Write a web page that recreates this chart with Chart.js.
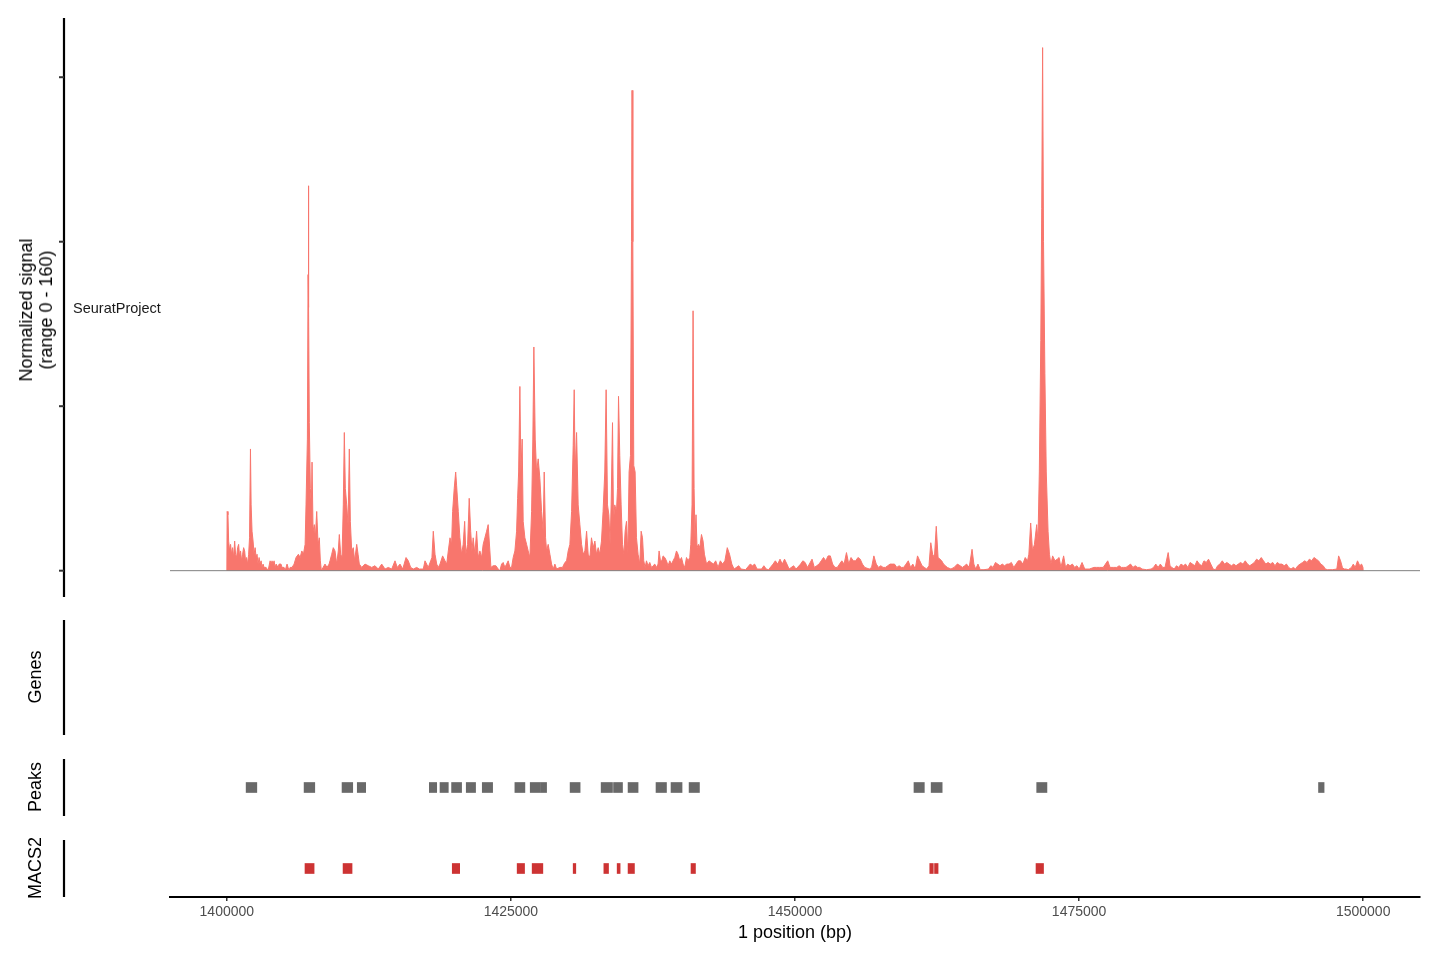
<!DOCTYPE html>
<html>
<head>
<meta charset="utf-8">
<script src="https://cdn.jsdelivr.net/npm/chart.js"></script>
<style>
  body { margin: 0; width: 1440px; height: 960px; background: #fff; position: relative; overflow: hidden; }
  canvas { position: absolute; left: 0; }
  .lab { position: absolute; font-family: "Liberation Sans", Arial, sans-serif; font-size: 18px; line-height: 20px;
         color: #000; white-space: nowrap; text-align: center; transform: translate(-50%, -50%) rotate(-90deg); }
  .strip { position: absolute; font-family: "Liberation Sans", Arial, sans-serif; font-size: 14.5px; color: #1a1a1a;
           white-space: nowrap; transform: translateY(-50%); }
</style>
</head>
<body>
<canvas id="cov" width="1440" height="610" style="top:0"></canvas>
<canvas id="genes" width="1440" height="115" style="top:620px"></canvas>
<canvas id="peaks" width="1440" height="57" style="top:759px"></canvas>
<canvas id="macs" width="1440" height="130" style="top:830px"></canvas>

<div class="lab" style="left:36px; top:310px">Normalized signal<br>(range 0 - 160)</div>
<div class="strip" style="left:73px; top:308px">SeuratProject</div>
<div class="lab" style="left:35px; top:677px">Genes</div>
<div class="lab" style="left:35px; top:787px">Peaks</div>
<div class="lab" style="left:35px; top:868px">MACS2</div>

<script>
// genomic window shown on the x axis (bp)
const xRange = [1395000, 1505000];
const xTickValues = [1400000, 1425000, 1450000, 1475000, 1500000];

// normalized signal range and its tick marks
const signalRange = [0, 160];
const signalTicks = [0, 50, 100, 150];

// coverage track: [position, normalized signal]
const coverage = [
  [1400000,0],[1400030,18],[1400100,17],[1400160,9],[1400250,6],[1400330,8],[1400420,5],[1400510,7],[1400600,4],[1400690,9],
  [1400770,5],[1400860,4],[1400950,7],[1401040,8],[1401130,4],[1401210,6],[1401300,3],[1401390,5],[1401480,7],[1401570,6],
  [1401650,3],[1401740,4],[1401830,2],[1401920,5],[1402000,10],[1402080,37],[1402140,20],[1402220,12],[1402310,9],[1402400,5],
  [1402490,7],[1402580,4],[1402660,5],[1402750,2],[1402840,4],[1402930,2],[1403020,3],[1403100,1],[1403190,2],[1403280,1],
  [1403460,1],[1403630,0],[1403810,3],[1403900,2],[1403980,3],[1404070,2],[1404160,3],[1404250,1],[1404340,2],[1404510,1],
  [1404600,2],[1404770,2],[1404860,1],[1405040,1],[1405130,0],[1405300,2],[1405390,1],[1405480,0],[1405570,1],[1405740,1],
  [1405920,2],[1406090,4],[1406300,5],[1406450,4],[1406600,6],[1406740,5],[1406890,8],[1406970,20],[1407090,40],[1407150,90],
  [1407180,117],[1407210,80],[1407260,45],[1407350,25],[1407440,20],[1407500,33],[1407590,12],[1407700,14],[1407790,10],[1407910,18],
  [1408030,8],[1408140,10],[1408230,3],[1408320,0],[1408470,1],[1408640,2],[1408820,1],[1409000,2],[1409080,3],[1409230,5],
  [1409370,7],[1409520,6],[1409670,2],[1409810,6],[1409900,11],[1410020,5],[1410140,4],[1410250,20],[1410340,42],[1410430,25],
  [1410550,20],[1410670,14],[1410780,37],[1410870,15],[1410990,6],[1411130,7],[1411250,3],[1411430,8],[1411550,5],[1411660,2],
  [1411870,1],[1412160,2],[1412450,1.5],[1412750,1],[1413040,1.5],[1413330,0.5],[1413630,2],[1413920,0.5],[1414210,1],[1414510,0.5],
  [1414800,3],[1415000,1],[1415240,2],[1415480,0.5],[1415770,4],[1415970,3],[1416180,1],[1416410,0.5],[1416710,1],[1416940,0.5],
  [1417290,0.5],[1417440,3],[1417730,1],[1417940,3],[1418050,4],[1418170,12],[1418320,5],[1418470,2],[1418610,1],[1418760,2],
  [1418990,4.5],[1419200,3],[1419350,2],[1419490,6],[1419640,10],[1419780,8],[1419870,18],[1420010,25],[1420140,30],[1420220,26],
  [1420370,18],[1420510,10],[1420660,5],[1420800,8],[1420930,15],[1421040,5],[1421190,8],[1421330,22],[1421460,12],[1421570,6],
  [1421680,10],[1421830,5],[1421980,12],[1422120,4],[1422270,6],[1422420,4],[1422560,8],[1422710,10],[1422860,12],[1423000,14],
  [1423150,6],[1423240,1],[1423440,1.5],[1423680,1.5],[1423880,0.5],[1424030,0],[1424180,2],[1424320,2.5],[1424470,1],[1424620,2],
  [1424760,3],[1424910,1],[1425060,1],[1425200,4],[1425350,6],[1425500,12],[1425590,22],[1425680,30],[1425790,56],[1425880,30],
  [1425990,40],[1426080,15],[1426230,10],[1426380,8],[1426520,6],[1426670,4],[1426820,18],[1426930,40],[1427020,68],[1427140,40],
  [1427260,30],[1427400,34],[1427550,28],[1427700,18],[1427840,12],[1427930,30],[1428050,10],[1428140,6],[1428280,8],[1428430,5],
  [1428580,2],[1428720,0.5],[1428870,2],[1429020,0.5],[1429310,1],[1429540,1],[1429750,2.5],[1429900,3],[1430040,6],[1430190,8],
  [1430340,18],[1430480,38],[1430570,55],[1430650,30],[1430780,42],[1430920,20],[1431070,14],[1431220,8],[1431360,5],[1431510,6],
  [1431660,12],[1431800,5],[1431950,4],[1432090,10],[1432240,7],[1432390,9],[1432530,5],[1432680,7],[1432820,5],[1432970,9],
  [1433110,18],[1433260,30],[1433380,55],[1433500,20],[1433620,17],[1433730,8],[1433820,20],[1433940,45],[1434030,15],[1434140,20],
  [1434290,18],[1434380,25],[1434470,53],[1434580,35],[1434700,20],[1434820,8],[1434940,5],[1435050,12],[1435170,15],[1435290,5],
  [1435400,30],[1435520,35],[1435610,100],[1435660,146],[1435730,100],[1435810,32],[1435930,30],[1436050,10],[1436190,5],[1436340,2],
  [1436460,12],[1436580,10],[1436690,3],[1436810,1],[1436930,3],[1437070,1.5],[1437220,2.5],[1437370,1],[1437510,1.5],[1437660,2],
  [1437810,1],[1437950,2],[1438040,6],[1438160,3],[1438280,3],[1438390,4.5],[1438540,4],[1438690,3],[1438830,1.5],[1438980,3],
  [1439130,2],[1439270,3],[1439420,4],[1439570,6],[1439710,5],[1439860,3],[1440010,4],[1440150,2],[1440300,1],[1440450,4],
  [1440590,3],[1440740,4],[1440830,8],[1440940,20],[1441030,79],[1441120,25],[1441200,10],[1441290,17],[1441380,7],[1441500,8],
  [1441620,7],[1441770,11],[1441910,9],[1442030,5],[1442220,2],[1442430,3],[1442630,2.5],[1442830,2],[1443020,3],[1443230,1],
  [1443430,3],[1443630,2],[1443830,3],[1444040,7],[1444240,5],[1444440,2],[1444640,0.5],[1445050,1.5],[1445250,0.5],[1445650,0.3],
  [1446060,2],[1446260,1.5],[1446450,2],[1446660,0.5],[1447060,0.5],[1447260,1.5],[1447470,0.5],[1447670,0.3],[1448070,2],[1448270,3],
  [1448480,2],[1448680,3.5],[1448880,2],[1449080,3.5],[1449290,2],[1449480,0.5],[1449880,1.5],[1450090,0.5],[1450490,2],[1450690,3],
  [1450890,2.5],[1451100,1],[1451500,3.5],[1451700,1],[1451910,1.5],[1452110,2],[1452310,3],[1452510,4],[1452710,3],[1452910,4.5],
  [1453110,4.5],[1453310,2],[1453520,1],[1453720,1],[1453920,2],[1454120,3],[1454320,2],[1454530,5.5],[1454730,2],[1454930,4],
  [1455130,3],[1455340,3],[1455540,4],[1455740,3.5],[1455930,2],[1456140,1],[1456540,0.5],[1456740,1],[1456940,4.5],[1457150,2],
  [1457350,1],[1457550,1.5],[1457750,1],[1457960,1],[1458160,1.5],[1458360,2],[1458560,2],[1458760,2],[1458960,1],[1459160,1.5],
  [1459360,1],[1459560,1],[1459770,2],[1459970,3],[1460170,1],[1460370,2],[1460580,0.5],[1460780,4.5],[1460980,3],[1461180,1.5],
  [1461380,1],[1461590,0.5],[1461790,1.5],[1461950,8.5],[1462110,5],[1462270,4],[1462430,13.5],[1462590,4],[1462760,3.5],[1462910,3],
  [1463070,2],[1463240,1.5],[1463400,1],[1463720,0.5],[1464000,1],[1464290,2],[1464530,1.5],[1464730,1],[1464930,1.5],[1465100,2],
  [1465330,1],[1465580,6.5],[1465740,2],[1465900,0.5],[1466100,2],[1466300,0.3],[1466630,0.3],[1467030,0.5],[1467230,1.5],[1467430,1],
  [1467640,2.5],[1467840,2],[1468040,1.5],[1468240,2],[1468440,1.5],[1468640,2],[1468840,2],[1469040,2.5],[1469250,1],[1469450,2],
  [1469650,3],[1469850,3],[1470050,2],[1470260,4],[1470460,3],[1470580,5],[1470740,14.5],[1470900,6],[1471070,8],[1471270,14],
  [1471380,9],[1471500,30],[1471630,70],[1471710,110],[1471790,159],[1471870,100],[1471990,60],[1472110,30],[1472270,12],[1472390,5],
  [1472520,2],[1472670,4.5],[1472880,3],[1473080,3.5],[1473240,4],[1473400,1],[1473640,4.5],[1473810,1],[1474000,2],[1474200,1.5],
  [1474410,2],[1474610,1],[1474810,1.5],[1475010,0.5],[1475260,2.5],[1475500,0.5],[1475900,0.5],[1476310,1],[1476540,1],[1476790,1],
  [1477120,1],[1477320,2],[1477520,3],[1477720,1],[1478000,1],[1478320,1],[1478520,1.5],[1478720,1],[1478930,1],[1479130,1],
  [1479330,1.5],[1479530,2],[1479740,1],[1479940,1.5],[1480140,1],[1480340,1],[1480540,0.5],[1480940,0.3],[1481340,0.5],[1481550,1],
  [1481750,2],[1481950,1],[1482150,2],[1482360,1],[1482560,1],[1482840,5.5],[1483000,1.5],[1483160,1],[1483370,0.5],[1483570,1.5],
  [1483770,1],[1483970,2],[1484180,1.5],[1484370,2],[1484570,1],[1484770,2.5],[1484980,2],[1485180,1.5],[1485380,3],[1485580,2],
  [1485790,1.5],[1485990,3],[1486190,2.5],[1486390,3.5],[1486590,2],[1486800,0.5],[1487000,0.3],[1487190,1.5],[1487390,2],[1487600,3],
  [1487800,2],[1488000,2.5],[1488200,2],[1488410,1.5],[1488610,2],[1488810,1.5],[1489010,2],[1489210,2.5],[1489420,2],[1489620,3],
  [1489820,2],[1490020,1.5],[1490230,2],[1490420,2.5],[1490620,3.5],[1490820,3],[1491030,4],[1491230,3],[1491430,2],[1491630,2.5],
  [1491830,2],[1492040,2.5],[1492240,1.5],[1492440,2.5],[1492640,2],[1492850,2],[1493050,1.5],[1493250,2],[1493440,1],[1493650,0.5],
  [1493850,1],[1494050,0.5],[1494250,1.5],[1494450,2],[1494660,2.5],[1494860,3],[1495060,2.5],[1495260,3.5],[1495470,3],[1495670,4],
  [1495870,3.5],[1496070,3],[1496270,2],[1496480,1.5],[1496670,0.5],[1496870,0.3],[1497280,0.3],[1497680,0.5],[1497840,4.5],[1498010,3],
  [1498170,1],[1498320,0.5],[1498490,0.5],[1498690,0.3],[1498970,1],[1499130,2],[1499300,1],[1499500,3],[1499700,1.5],[1499860,2],
  [1499980,1],[1500000,0]
];

// peak calls (bp)
const peakStart = [1401700,1406800,1410140,1411480,1417820,1418760,1419780,1421070,1422480,1425350,1426700,1427650,
                   1430210,1432940,1434030,1435310,1437770,1439090,1440680,1460470,1461980,1471270,1496070];
const peakEnd   = [1402640,1407740,1411080,1412220,1418470,1419490,1420660,1421890,1423390,1426230,1427610,1428140,
                   1431090,1433940,1434820,1436190,1438690,1440060,1441590,1461380,1462950,1472170,1496560];

// MACS2 peaks (bp)
const macsStart = [1406880,1410230,1419840,1425550,1426870,1430480,1433180,1434350,1435310,1440850,1461860,1462280,1471210];
const macsEnd   = [1407680,1411020,1420490,1426200,1427810,1430710,1433590,1434610,1435870,1441240,1462170,1462590,1471870];

const FONT = '"Liberation Sans", Arial, sans-serif';
const AXIS_X = 64;

// left axis line (and optional tick marks) drawn beside the strip label
const leftAxis = {
  id: 'leftAxis',
  afterDraw(chart, args, opts) {
    const { ctx, chartArea } = chart;
    ctx.save();
    ctx.strokeStyle = '#000';
    ctx.lineWidth = 2.2;
    ctx.beginPath();
    ctx.moveTo(AXIS_X, chartArea.top);
    ctx.lineTo(AXIS_X, chartArea.bottom);
    ctx.stroke();
    if (opts.ticks) {
      const y = chart.scales.y;
      ctx.strokeStyle = '#333';
      ctx.lineWidth = 2;
      opts.ticks.forEach(v => {
        const py = y.getPixelForValue(v);
        ctx.beginPath();
        ctx.moveTo(AXIS_X - 5, py);
        ctx.lineTo(AXIS_X, py);
        ctx.stroke();
      });
    }
    ctx.restore();
  }
};

function hiddenX() {
  return { type: 'linear', min: xRange[0], max: xRange[1], display: false };
}

function baseOptions(padding, scales, axisTicks) {
  return {
    responsive: false,
    animation: false,
    events: [],
    layout: { padding },
    scales,
    plugins: { legend: { display: false }, tooltip: { enabled: false }, leftAxis: { ticks: axisTicks } }
  };
}

// coverage
const pad = (signalRange[1] - signalRange[0]) * 0.05;
new Chart(document.getElementById('cov'), {
  type: 'line',
  data: {
    datasets: [
      { data: [{ x: xRange[0], y: 0 }, { x: xRange[1], y: 0 }], borderColor: '#808080', borderWidth: 1,
        pointRadius: 0, fill: false },
      { data: coverage.map(([x, y]) => ({ x, y })), borderColor: '#F8766D', backgroundColor: '#F8766D',
        borderWidth: 1, pointRadius: 0, fill: 'origin', tension: 0 }
    ]
  },
  options: baseOptions({ left: 170, right: 20, top: 18, bottom: 13 }, {
    x: hiddenX(),
    y: { min: signalRange[0] - pad, max: signalRange[1] + pad, display: false }
  }, signalTicks),
  plugins: [leftAxis]
});

// genes (empty track)
new Chart(document.getElementById('genes'), {
  type: 'line',
  data: { datasets: [] },
  options: baseOptions({ left: 170, right: 20, top: 0, bottom: 0 }, {
    x: hiddenX(),
    y: { min: 0, max: 1, display: false }
  }),
  plugins: [leftAxis]
});

function rangeData(starts, ends, label) {
  return starts.map((s, i) => ({ x: [s, ends[i]], y: label }));
}

// peaks
new Chart(document.getElementById('peaks'), {
  type: 'bar',
  data: {
    labels: ['Peaks'],
    datasets: [{ data: rangeData(peakStart, peakEnd, 'Peaks'), backgroundColor: '#696969',
                 barThickness: 10, borderWidth: 0, borderSkipped: false }]
  },
  options: Object.assign(baseOptions({ left: 170, right: 20, top: 0, bottom: 0 }, {
    x: hiddenX(),
    y: { type: 'category', display: false }
  }), { indexAxis: 'y' }),
  plugins: [leftAxis]
});

// MACS2 + genomic axis
new Chart(document.getElementById('macs'), {
  type: 'bar',
  data: {
    labels: ['MACS2'],
    datasets: [{ data: rangeData(macsStart, macsEnd, 'MACS2'), backgroundColor: '#CD3333',
                 barThickness: 10, borderWidth: 0, borderSkipped: false }]
  },
  options: Object.assign(baseOptions({ left: 170, right: 20, top: 10, bottom: 14 }, {
    x: {
      type: 'linear', min: xRange[0], max: xRange[1], position: 'bottom',
      afterBuildTicks: s => { s.ticks = xTickValues.map(v => ({ value: v })); },
      afterFit: s => { s.height = 49; },
      grid: { display: true, drawOnChartArea: false, drawTicks: true, tickLength: 4, color: '#333', lineWidth: 1.5 },
      border: { display: true, color: '#000', width: 2 },
      ticks: { autoSkip: false, maxRotation: 0, padding: 3, color: '#4D4D4D',
               font: { family: FONT, size: 14 }, callback: v => String(v) },
      title: { display: true, text: '1 position (bp)', color: '#000',
               font: { family: FONT, size: 18 }, padding: { top: 4, bottom: 2 } }
    },
    y: { type: 'category', display: false }
  }), { indexAxis: 'y' }),
  plugins: [leftAxis]
});
</script>
</body>
</html>
